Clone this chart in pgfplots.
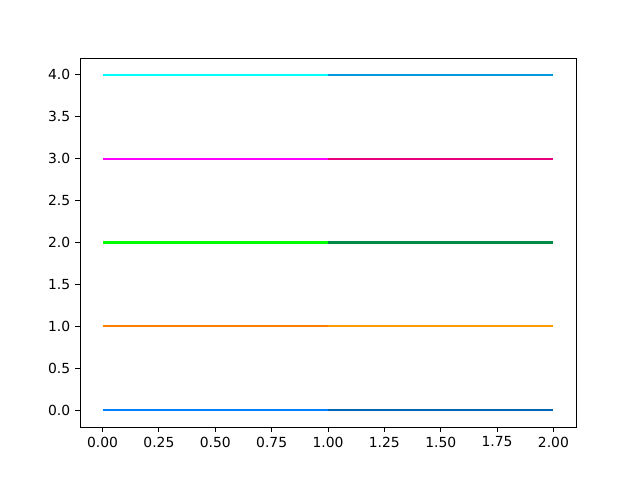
\documentclass[border=0pt]{standalone}
\usepackage{fontspec}
\setmainfont{DejaVu Sans}
\usepackage{pgfplots}
\pgfplotsset{compat=1.18}

\definecolor{c0a}{HTML}{0080FF}
\definecolor{c0b}{HTML}{0066B3}
\definecolor{c1a}{HTML}{FF8000}
\definecolor{c1b}{HTML}{FF9900}
\definecolor{c2a}{HTML}{00FF00}
\definecolor{c2b}{HTML}{008C45}
\definecolor{c3a}{HTML}{FF00FF}
\definecolor{c3b}{HTML}{E6007E}
\definecolor{c4a}{HTML}{00FFFF}
\definecolor{c4b}{HTML}{0099DD}

\begin{document}
\begin{tikzpicture}
\path[use as bounding box] (-57.6pt,-38.16pt) rectangle (403.2pt,307.44pt);
\begin{axis}[
  at={(0,0)}, anchor=south west,
  scale only axis,
  width=357.12pt, height=265.68pt,
  xmin=-0.1, xmax=2.1, ymin=-0.2, ymax=4.2,
  xtick={0,0.25,...,2}, ytick={0,0.5,...,4},
  xtick pos=left, ytick pos=left,
  tick align=outside,
  major tick length=3.5pt,
  every tick/.style={black, line width=0.6pt},
  axis line style={line width=0.6pt},
  xticklabel style={/pgf/number format/.cd, fixed, fixed zerofill, precision=2},
  yticklabel style={/pgf/number format/.cd, fixed, fixed zerofill, precision=1},
  /pgf/number format/assume math mode=true,
  tick label style={font=\fontsize{10}{12}\selectfont},
  every axis plot/.append style={line width=1.5pt},
]
\addplot[c0a] coordinates {(0,0) (1,0)};
\addplot[c0b] coordinates {(1,0) (2,0)};
\addplot[c1a] coordinates {(0,1) (1,1)};
\addplot[c1b] coordinates {(1,1) (2,1)};
\addplot[c2a] coordinates {(0,2) (1,2)};
\addplot[c2b] coordinates {(1,2) (2,2)};
\addplot[c3a] coordinates {(0,3) (1,3)};
\addplot[c3b] coordinates {(1,3) (2,3)};
\addplot[c4a] coordinates {(0,4) (1,4)};
\addplot[c4b] coordinates {(1,4) (2,4)};
\end{axis}
\end{tikzpicture}
\end{document}
